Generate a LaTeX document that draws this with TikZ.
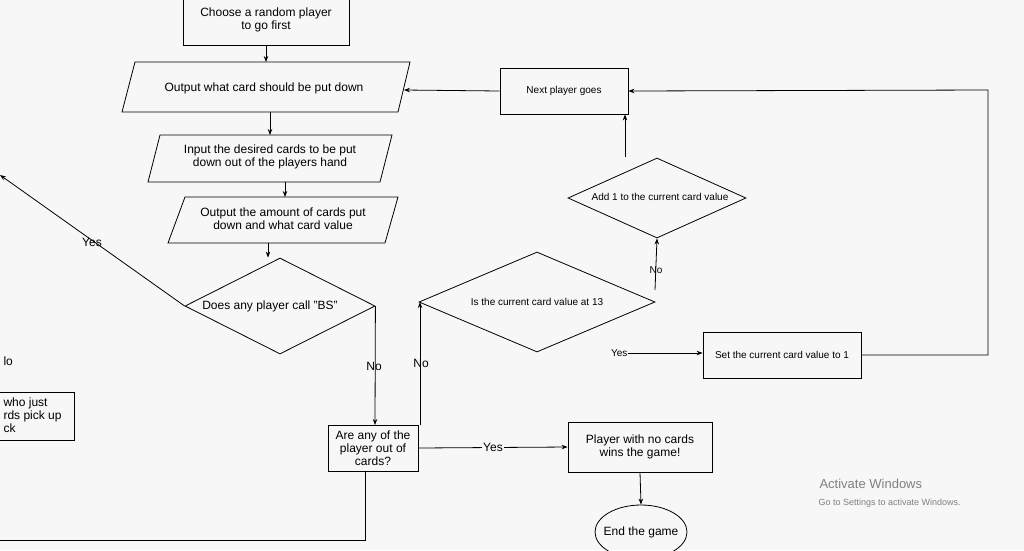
\documentclass[tikz,border=0pt]{standalone}
\usepackage{fontspec}
\setmainfont{Liberation Sans}
\usetikzlibrary{shapes.geometric,arrows.meta}
\begin{document}
\begin{tikzpicture}[x=1pt,y=-1pt,font=\fontsize{12}{13}\selectfont,
  box/.style={draw,thick,align=center,inner sep=2pt},
  shp/.style={draw,thick},
  ar/.style={-{Stealth[length=6pt]},thick},
  ln/.style={thick},
  lab/.style={fill=gray!6,inner sep=1pt}]
\fill[gray!6] (0,0) rectangle (1024,550);
\useasboundingbox (0,0) rectangle (1024,550);
% nodes
\node[draw,thick,minimum width=166pt,minimum height=50pt,align=center] (choose) at (266,20) {Choose a random player\\to go first};
\draw[shp] (135,62) -- (410,62) -- (398,112) -- (122,112) -- cycle;
\node (outcard) at (264,88) {Output what card should be put down};
\coordinate (oc-n) at (266,62); \coordinate (oc-s) at (270,112); \coordinate (oc-e) at (404,90);
\node[box,minimum width=128pt,minimum height=46pt,font=\fontsize{10}{11}\selectfont] (next) at (564,91) {Next player goes};
\draw[shp] (160,135) -- (392,135) -- (380,182) -- (148,182) -- cycle;
\node[align=center] (input) at (270,157) {Input the desired cards to be put\\down out of the players hand};
\coordinate (in-n) at (270,135); \coordinate (in-s) at (285,182);
\draw[shp] (185,197) -- (398,197) -- (385,243) -- (168,243) -- cycle;
\node[align=center] (outamt) at (283,219) {Output the amount of cards put\\down and what card value};
\coordinate (oa-n) at (285,197); \coordinate (oa-s) at (268,243);
\node[draw,thick,diamond,minimum width=190pt,minimum height=96pt,inner sep=0pt] (bs) at (280,306) {};
\node at (270,306) {Does any player call "BS"};
\node[draw,thick,diamond,minimum width=178pt,minimum height=80pt,inner sep=0pt] (add) at (657,198) {};
\node[font=\fontsize{10}{11}\selectfont] at (660,197) {Add 1 to the current card value};
\node[draw,thick,diamond,minimum width=236pt,minimum height=100pt,inner sep=0pt] (is13) at (537,302) {};
\node[font=\fontsize{10}{11}\selectfont] at (537,302) {Is the current card value at 13};
\node[box,minimum width=158pt,minimum height=46pt,font=\fontsize{10}{11}\selectfont] (set) at (782,355) {Set the current card value to 1};
\node[box,minimum width=90pt,minimum height=46pt,inner sep=1pt] (are) at (373,448) {Are any of the\\player out of\\cards?};
\node[box,minimum width=144pt,minimum height=50pt] (win) at (640,447) {Player with no cards\\wins the game!};
\node[draw,thick,ellipse,minimum width=92pt,minimum height=54pt] (end) at (641,532) {};
\node at (641,532) {End the game};
\draw[thick] (-5,392) rectangle (74,440);
\node[anchor=north west,align=left] (who) at (0,394) {who just\\rds pick up\\ck};
\node[anchor=west] at (0,361) {lo};
\coordinate (ul) at (0,175);
% connectors
\draw[ar] (choose.south) -- (oc-n);
\draw[ar] (oc-s) -- (in-n);
\draw[ar] (in-s) -- (oa-n);
\draw[ar] (oa-s) -- (bs.north-|oa-s);
\draw[ar] (next.west) -- (oc-e);
\draw[ar] (bs.west) -- (ul);
\node at (92,242) {Yes};
\draw[ar] (bs.east) -- (375,425);
\node at (374,366) {No};
\draw[ar] (420,425) -- (420,302);
\node at (421,363) {No};
\draw[ar] (are.east) -- node[lab]{Yes} (win.west);
\draw[ln] (365,471) -- (365,540) -- (0,540);
\draw[ar] (win.south) -- (end.north);
\draw[ar] (610,353) -- node[lab,pos=0.1,font=\fontsize{10}{11}\selectfont]{Yes} (set.west|-0,353);
\draw[ar] (655,290) -- (add.south);
\node[font=\fontsize{10}{11}\selectfont] at (656,270) {No};
\draw[ar] (625,157) -- (next.south-|625,0);
\draw[ar] (set.east) -- (988,355) -- (988,90) -- (next.east);
\node[gray,anchor=west,font=\fontsize{13}{14}\selectfont] at (816,484) {Activate Windows};
\node[gray,anchor=west,font=\fontsize{9}{10}\selectfont] at (815,503) {Go to Settings to activate Windows.};
\end{tikzpicture}
\end{document}
